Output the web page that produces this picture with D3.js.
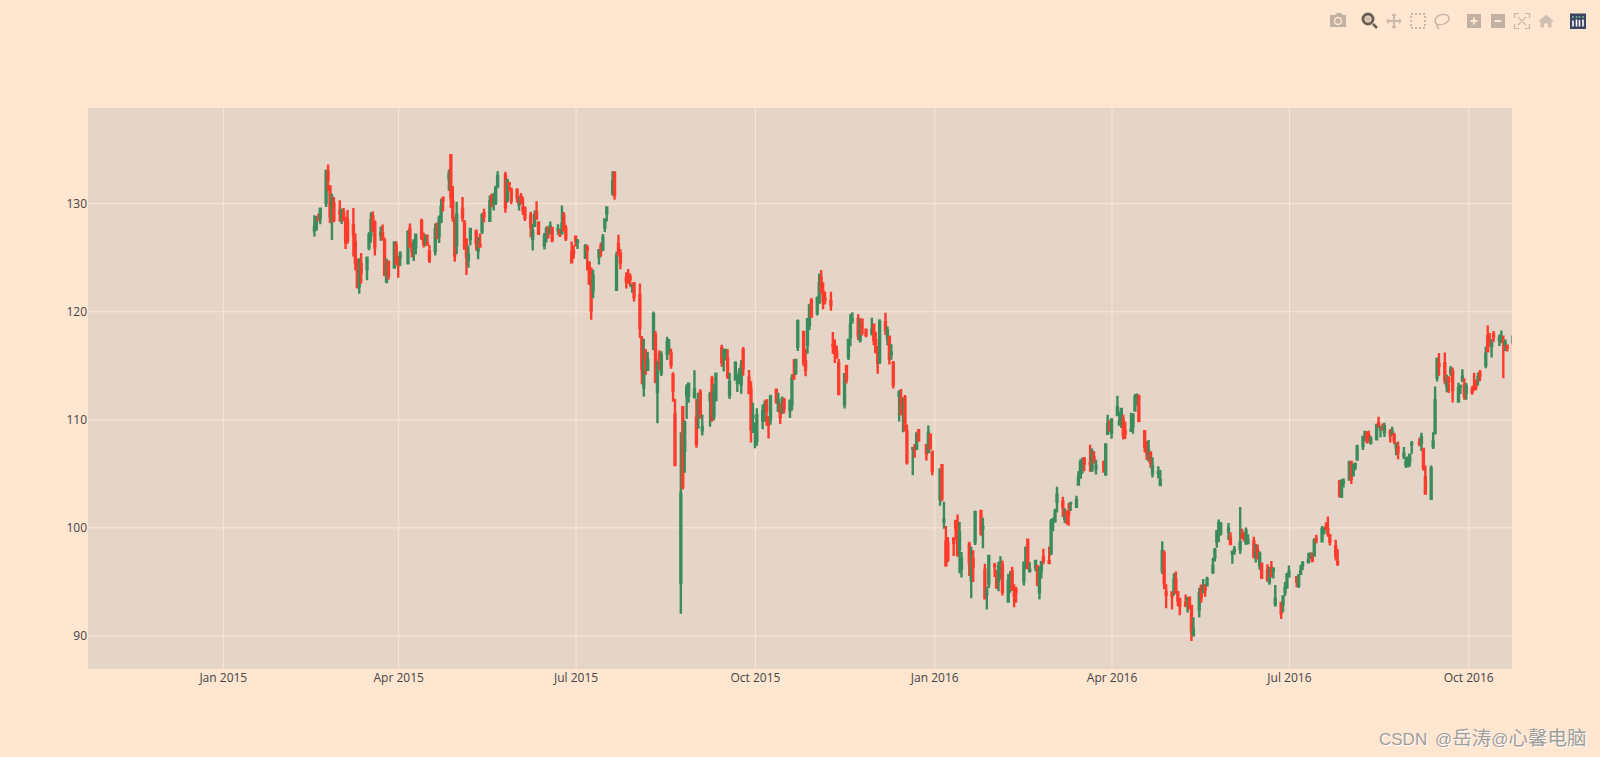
<!DOCTYPE html>
<html>
<head>
<meta charset="utf-8">
<script src="https://cdn.jsdelivr.net/npm/d3@7"></script>
<style>
html, body { margin: 0; padding: 0; background: #ffe6d1; overflow: hidden; }
#watermark { position: absolute; left: 1379px; top: 727px; line-height: 22px; font-family: "Liberation Sans", "Noto Sans CJK SC", sans-serif; font-size: 17px; word-spacing: 3px; color: #a09d9a; text-shadow: 1px 1px 1px #fff; white-space: nowrap; }
#watermark .cjk { font-size: 19.5px; }
</style>
</head>
<body>
<svg id="chart" width="1600" height="757" style="display:block"></svg>
<div id="watermark">CSDN @<span class="cjk">岳涛</span>@<span class="cjk">心馨电脑</span></div>
<script>
var dates = [
"2015-02-17","2015-02-18","2015-02-19","2015-02-20","2015-02-23","2015-02-24","2015-02-25","2015-02-26","2015-02-27",
"2015-03-02","2015-03-03","2015-03-04","2015-03-05","2015-03-06","2015-03-09","2015-03-10","2015-03-11","2015-03-12","2015-03-13","2015-03-16","2015-03-17","2015-03-18","2015-03-19","2015-03-20","2015-03-23","2015-03-24","2015-03-25","2015-03-26","2015-03-27","2015-03-30","2015-03-31",
"2015-04-01","2015-04-02","2015-04-06","2015-04-07","2015-04-08","2015-04-09","2015-04-10","2015-04-13","2015-04-14","2015-04-15","2015-04-16","2015-04-17","2015-04-20","2015-04-21","2015-04-22","2015-04-23","2015-04-24","2015-04-27","2015-04-28","2015-04-29","2015-04-30",
"2015-05-01","2015-05-04","2015-05-05","2015-05-06","2015-05-07","2015-05-08","2015-05-11","2015-05-12","2015-05-13","2015-05-14","2015-05-15","2015-05-18","2015-05-19","2015-05-20","2015-05-21","2015-05-22","2015-05-26","2015-05-27","2015-05-28","2015-05-29",
"2015-06-01","2015-06-02","2015-06-03","2015-06-04","2015-06-05","2015-06-08","2015-06-09","2015-06-10","2015-06-11","2015-06-12","2015-06-15","2015-06-16","2015-06-17","2015-06-18","2015-06-19","2015-06-22","2015-06-23","2015-06-24","2015-06-25","2015-06-26","2015-06-29","2015-06-30",
"2015-07-01","2015-07-02","2015-07-06","2015-07-07","2015-07-08","2015-07-09","2015-07-10","2015-07-13","2015-07-14","2015-07-15","2015-07-16","2015-07-17","2015-07-20","2015-07-21","2015-07-22","2015-07-23","2015-07-24","2015-07-27","2015-07-28","2015-07-29","2015-07-30","2015-07-31",
"2015-08-03","2015-08-04","2015-08-05","2015-08-06","2015-08-07","2015-08-10","2015-08-11","2015-08-12","2015-08-13","2015-08-14","2015-08-17","2015-08-18","2015-08-19","2015-08-20","2015-08-21","2015-08-24","2015-08-25","2015-08-26","2015-08-27","2015-08-28","2015-08-31",
"2015-09-01","2015-09-02","2015-09-03","2015-09-04","2015-09-08","2015-09-09","2015-09-10","2015-09-11","2015-09-14","2015-09-15","2015-09-16","2015-09-17","2015-09-18","2015-09-21","2015-09-22","2015-09-23","2015-09-24","2015-09-25","2015-09-28","2015-09-29","2015-09-30",
"2015-10-01","2015-10-02","2015-10-05","2015-10-06","2015-10-07","2015-10-08","2015-10-09","2015-10-12","2015-10-13","2015-10-14","2015-10-15","2015-10-16","2015-10-19","2015-10-20","2015-10-21","2015-10-22","2015-10-23","2015-10-26","2015-10-27","2015-10-28","2015-10-29","2015-10-30",
"2015-11-02","2015-11-03","2015-11-04","2015-11-05","2015-11-06","2015-11-09","2015-11-10","2015-11-11","2015-11-12","2015-11-13","2015-11-16","2015-11-17","2015-11-18","2015-11-19","2015-11-20","2015-11-23","2015-11-24","2015-11-25","2015-11-27","2015-11-30",
"2015-12-01","2015-12-02","2015-12-03","2015-12-04","2015-12-07","2015-12-08","2015-12-09","2015-12-10","2015-12-11","2015-12-14","2015-12-15","2015-12-16","2015-12-17","2015-12-18","2015-12-21","2015-12-22","2015-12-23","2015-12-24","2015-12-28","2015-12-29","2015-12-30","2015-12-31",
"2016-01-04","2016-01-05","2016-01-06","2016-01-07","2016-01-08","2016-01-11","2016-01-12","2016-01-13","2016-01-14","2016-01-15","2016-01-19","2016-01-20","2016-01-21","2016-01-22","2016-01-25","2016-01-26","2016-01-27","2016-01-28","2016-01-29",
"2016-02-01","2016-02-02","2016-02-03","2016-02-04","2016-02-05","2016-02-08","2016-02-09","2016-02-10","2016-02-11","2016-02-12","2016-02-16","2016-02-17","2016-02-18","2016-02-19","2016-02-22","2016-02-23","2016-02-24","2016-02-25","2016-02-26","2016-02-29",
"2016-03-01","2016-03-02","2016-03-03","2016-03-04","2016-03-07","2016-03-08","2016-03-09","2016-03-10","2016-03-11","2016-03-14","2016-03-15","2016-03-16","2016-03-17","2016-03-18","2016-03-21","2016-03-22","2016-03-23","2016-03-24","2016-03-28","2016-03-29","2016-03-30","2016-03-31",
"2016-04-01","2016-04-04","2016-04-05","2016-04-06","2016-04-07","2016-04-08","2016-04-11","2016-04-12","2016-04-13","2016-04-14","2016-04-15","2016-04-18","2016-04-19","2016-04-20","2016-04-21","2016-04-22","2016-04-25","2016-04-26","2016-04-27","2016-04-28","2016-04-29",
"2016-05-02","2016-05-03","2016-05-04","2016-05-05","2016-05-06","2016-05-09","2016-05-10","2016-05-11","2016-05-12","2016-05-13","2016-05-16","2016-05-17","2016-05-18","2016-05-19","2016-05-20","2016-05-23","2016-05-24","2016-05-25","2016-05-26","2016-05-27","2016-05-31",
"2016-06-01","2016-06-02","2016-06-03","2016-06-06","2016-06-07","2016-06-08","2016-06-09","2016-06-10","2016-06-13","2016-06-14","2016-06-15","2016-06-16","2016-06-17","2016-06-20","2016-06-21","2016-06-22","2016-06-23","2016-06-24","2016-06-27","2016-06-28","2016-06-29","2016-06-30",
"2016-07-01","2016-07-05","2016-07-06","2016-07-07","2016-07-08","2016-07-11","2016-07-12","2016-07-13","2016-07-14","2016-07-15","2016-07-18","2016-07-19","2016-07-20","2016-07-21","2016-07-22","2016-07-25","2016-07-26","2016-07-27","2016-07-28","2016-07-29",
"2016-08-01","2016-08-02","2016-08-03","2016-08-04","2016-08-05","2016-08-08","2016-08-09","2016-08-10","2016-08-11","2016-08-12","2016-08-15","2016-08-16","2016-08-17","2016-08-18","2016-08-19","2016-08-22","2016-08-23","2016-08-24","2016-08-25","2016-08-26","2016-08-29","2016-08-30","2016-08-31",
"2016-09-01","2016-09-02","2016-09-06","2016-09-07","2016-09-08","2016-09-09","2016-09-12","2016-09-13","2016-09-14","2016-09-15","2016-09-16","2016-09-19","2016-09-20","2016-09-21","2016-09-22","2016-09-23","2016-09-26","2016-09-27","2016-09-28","2016-09-29","2016-09-30",
"2016-10-03","2016-10-04","2016-10-05","2016-10-06","2016-10-07","2016-10-10","2016-10-11","2016-10-12","2016-10-13","2016-10-14","2016-10-17","2016-10-18","2016-10-19","2016-10-20","2016-10-21","2016-10-24"
];
var opens = [
127.49,127.63,128.48,128.62,130.02,132.94,131.56,128.79,130.00,
129.25,128.96,129.10,128.58,128.40,127.96,126.41,124.75,122.31,124.40,123.88,125.90,127.00,128.75,128.25,127.12,127.23,126.54,122.76,124.57,124.05,126.09,
124.82,125.03,124.47,127.64,125.85,125.85,125.95,128.37,127.00,126.41,126.28,125.55,125.57,128.10,126.99,128.30,130.49,132.31,134.46,130.16,128.64,
126.10,129.50,128.15,126.56,124.77,126.68,127.39,125.60,126.15,127.41,129.07,128.38,130.69,130.00,130.07,131.60,132.60,130.34,131.86,131.23,
131.20,129.86,130.66,129.58,129.50,128.90,126.70,127.92,129.18,128.19,126.10,127.03,127.72,127.23,127.71,127.49,127.48,127.21,128.86,127.67,125.46,125.57,
126.90,126.43,124.94,125.89,124.48,123.85,121.94,125.03,126.04,125.72,127.74,129.08,130.97,132.85,121.99,126.20,125.32,123.09,123.38,123.15,122.32,122.60,
121.50,117.42,112.95,115.97,114.58,116.53,117.81,112.53,116.04,114.32,116.04,116.43,116.10,114.08,110.43,94.87,111.11,107.09,112.23,112.17,112.03,
110.15,110.23,112.49,108.97,111.75,113.76,110.27,111.79,116.58,115.93,116.25,115.66,112.21,113.67,113.38,113.63,113.25,116.44,113.85,112.83,110.17,
109.07,108.01,109.88,110.63,111.74,110.19,110.00,112.73,110.82,111.29,110.93,111.78,110.80,111.34,114.00,114.33,116.70,118.08,115.40,116.93,118.70,120.99,
119.87,120.79,123.13,121.85,121.11,120.96,116.90,116.37,116.26,115.20,111.38,114.92,115.76,117.64,119.20,119.27,117.33,119.21,118.29,117.99,
118.75,117.34,116.55,115.29,118.98,117.52,117.64,116.04,115.19,112.18,111.94,111.07,112.02,108.91,107.28,107.40,107.27,109.00,107.59,106.96,108.58,107.01,
102.61,105.75,100.56,98.68,98.55,98.97,100.55,100.32,97.96,96.20,98.41,95.10,97.06,98.63,101.52,99.93,96.04,93.79,94.79,
96.47,95.42,95.00,95.86,96.52,93.13,94.29,95.92,93.79,94.19,95.02,96.67,98.84,96.00,96.31,96.40,93.98,96.05,97.20,96.86,
97.65,100.51,100.58,102.37,102.39,100.78,101.31,101.41,102.24,101.91,103.96,104.61,105.52,106.34,105.93,105.25,106.48,105.47,106.00,104.89,108.65,109.72,
108.78,110.42,109.51,110.23,109.95,108.91,108.97,109.34,110.80,111.62,112.11,108.89,107.88,106.64,106.93,105.01,105.00,103.91,96.00,97.61,93.99,
93.97,94.20,95.20,94.00,93.37,93.00,93.33,93.48,92.72,90.00,92.39,94.55,94.16,94.64,94.64,95.87,97.22,98.67,99.68,99.44,99.60,
99.02,97.60,97.79,97.99,99.25,99.02,98.50,98.53,98.69,97.32,97.82,96.45,96.62,96.00,94.94,96.25,95.94,92.91,93.00,92.90,93.97,94.44,
95.49,95.39,94.60,95.70,96.49,96.75,97.17,97.41,97.39,98.92,98.70,99.56,100.00,99.83,99.26,98.25,96.82,104.26,102.83,104.19,
104.41,106.05,104.81,105.58,106.27,107.52,108.23,108.71,108.52,107.78,108.14,109.63,109.10,109.23,108.77,108.86,108.59,108.57,107.39,107.41,106.62,105.80,105.66,
106.14,107.70,107.90,107.83,107.25,104.64,102.65,107.51,108.73,113.86,115.12,115.19,113.05,113.85,114.35,114.42,111.64,113.00,113.69,113.16,112.46,
112.71,113.06,113.40,113.70,114.31,115.02,117.70,117.35,116.79,117.88,117.33,117.18,117.25,116.86,116.81,117.10
];
var highs = [
128.88,128.78,129.03,129.50,133.00,133.60,131.60,130.87,130.57,
130.28,129.52,129.56,128.75,129.37,129.57,127.22,124.77,124.90,125.40,124.95,127.32,129.16,129.25,128.40,127.85,128.04,126.82,124.88,124.70,126.40,126.49,
125.12,125.56,127.51,128.12,126.40,126.58,127.21,128.57,127.29,127.13,127.10,126.14,128.12,128.20,128.87,130.42,130.63,133.13,134.54,131.59,128.64,
130.13,130.57,128.45,126.75,126.08,127.62,127.56,126.88,127.19,128.95,129.49,130.72,130.88,130.98,131.63,132.97,132.91,132.26,131.95,131.45,
131.39,130.66,130.94,130.58,129.69,129.21,128.08,129.34,130.18,128.33,127.24,127.85,127.88,128.31,127.82,128.06,127.61,129.80,129.20,127.99,126.47,126.12,
126.94,126.69,126.23,126.15,124.64,124.06,123.85,125.76,126.37,127.15,128.57,129.62,132.97,132.92,125.50,127.09,125.74,123.61,123.91,123.50,122.57,122.64,
122.57,117.70,117.44,116.50,116.25,119.99,118.18,115.42,116.40,116.31,117.65,117.44,116.52,114.35,111.90,108.80,111.11,109.89,113.24,113.31,114.53,
111.88,112.34,112.78,110.45,112.56,114.02,113.28,114.21,116.89,116.53,116.54,116.49,114.30,115.37,114.18,114.72,115.50,116.69,114.57,113.51,111.54,
109.62,111.01,111.37,111.74,111.77,110.19,112.28,112.75,112.45,111.52,112.10,112.00,111.75,114.17,115.58,115.50,119.23,118.13,116.54,119.30,120.69,121.22,
121.36,123.49,123.82,122.69,121.81,121.81,118.07,117.42,116.82,115.57,114.24,115.05,117.49,119.75,119.92,119.73,119.35,119.23,118.41,119.41,
118.81,118.11,116.79,119.25,119.86,118.60,117.69,116.94,115.39,112.68,112.80,111.99,112.25,109.52,107.37,107.72,108.85,109.00,107.69,109.43,108.70,107.03,
105.37,105.85,102.37,100.13,99.11,99.06,100.69,101.19,100.48,97.71,98.65,98.19,97.88,101.46,101.53,100.88,96.63,94.52,97.34,
96.71,96.04,96.84,97.33,96.92,95.70,95.94,96.35,94.72,94.50,96.85,98.21,98.89,96.76,96.90,96.50,96.38,96.76,98.02,98.23,
100.77,100.89,101.71,103.75,102.83,101.76,101.58,102.24,102.28,102.91,105.18,106.31,106.47,106.50,107.65,107.29,107.07,106.25,106.19,107.79,110.42,109.90,
110.00,112.19,110.73,110.98,110.42,109.77,110.61,110.50,112.34,112.39,112.30,108.95,108.00,108.09,106.93,106.48,105.65,105.30,98.71,97.88,94.72,
94.08,95.74,95.90,94.07,93.45,93.77,93.57,93.57,92.78,91.67,94.39,94.70,95.21,94.64,95.43,97.19,98.09,99.74,100.73,100.47,100.40,
99.54,97.84,98.27,101.89,99.87,99.56,99.99,99.35,99.12,98.48,98.41,97.75,96.65,96.57,96.35,96.89,96.29,94.66,93.05,93.66,94.94,95.77,
96.47,95.40,95.66,96.50,96.89,97.65,97.70,97.67,98.99,99.30,100.13,100.00,100.46,101.00,99.30,98.84,97.97,104.35,104.45,104.55,
106.15,106.07,105.84,106.00,107.65,108.37,108.94,108.90,108.93,108.44,109.54,110.23,109.37,109.60,109.69,109.10,109.32,108.75,107.88,107.95,107.44,106.50,106.57,
106.80,108.00,108.30,108.76,107.27,105.72,105.72,108.79,113.03,115.73,116.13,116.18,114.12,113.99,114.94,114.79,113.39,113.18,114.64,113.80,113.37,
113.05,114.31,113.66,114.34,114.56,116.75,118.69,117.98,117.44,118.17,117.84,118.21,117.76,117.38,116.91,117.74
];
var lows = [
126.92,127.45,128.33,128.05,129.66,131.17,128.15,126.61,128.24,
128.30,128.09,128.32,125.76,126.26,125.06,123.80,122.11,121.63,122.58,122.87,125.65,126.37,127.40,125.16,126.52,126.56,123.38,122.60,122.91,124.00,124.36,
123.10,124.19,124.33,125.98,124.97,124.66,125.26,126.61,125.91,126.01,126.11,124.46,125.17,126.67,126.32,128.14,129.23,131.15,129.57,128.30,124.58,
125.30,128.30,125.78,123.36,124.02,126.11,125.63,124.82,125.87,127.16,128.21,128.36,129.64,129.34,129.83,131.40,129.12,130.05,131.10,129.90,
130.05,129.32,129.90,128.91,128.36,126.83,125.62,127.85,128.48,127.11,125.71,126.37,126.74,127.22,126.40,127.08,126.88,127.12,127.50,126.51,124.48,124.86,
125.99,125.77,124.85,123.77,122.54,119.22,121.21,124.32,125.04,125.58,127.35,128.31,130.70,130.32,121.99,125.06,123.90,122.12,122.55,122.27,121.71,120.91,
117.52,113.25,112.10,114.12,114.50,116.53,113.33,109.63,114.54,114.01,115.50,116.01,114.68,111.63,105.65,92.00,103.50,105.05,110.02,111.54,112.00,
107.36,109.13,110.04,108.51,109.32,109.77,109.90,111.76,114.86,114.42,115.44,113.72,111.87,113.66,112.52,113.30,112.37,114.02,112.44,107.86,108.73,
107.31,107.55,109.07,109.77,109.41,108.21,109.49,111.44,110.68,109.56,110.49,110.53,110.11,110.82,113.70,114.10,116.33,114.92,113.99,116.06,118.27,119.45,
119.61,120.70,121.62,120.18,120.62,120.05,116.06,115.21,115.65,112.27,111.00,113.32,115.50,116.76,118.85,117.34,117.12,117.75,117.60,117.75,
116.86,116.08,114.22,115.11,117.81,116.86,115.08,115.51,112.85,109.79,110.35,108.80,108.98,105.81,104.82,106.45,107.20,107.95,106.18,106.86,107.18,104.82,
102.00,102.41,99.87,96.43,96.76,97.34,98.84,97.30,95.74,95.36,95.50,93.42,94.94,98.37,99.21,98.07,93.34,92.39,94.35,
95.40,94.28,94.08,95.19,93.69,93.04,93.93,94.10,92.59,93.01,94.61,96.15,96.09,95.80,95.92,94.55,93.32,95.25,96.58,96.65,
97.42,99.64,100.45,101.37,100.96,100.40,100.27,100.15,101.50,101.78,103.85,104.59,104.96,105.19,105.14,105.21,105.90,104.89,105.06,104.88,108.60,108.88,
108.20,110.27,109.42,109.20,108.12,108.17,108.83,108.66,110.80,111.33,109.73,106.94,106.23,106.06,105.52,104.62,104.51,103.91,95.68,94.25,92.51,
92.40,93.68,93.82,92.68,91.85,92.59,92.11,92.46,89.47,90.00,91.65,93.01,93.89,93.57,94.52,95.67,96.84,98.11,98.64,99.25,98.82,
98.33,96.63,97.45,97.55,98.96,98.68,98.46,98.48,97.10,96.75,97.03,96.07,95.30,95.03,94.68,95.35,95.25,92.65,91.50,92.14,93.63,94.30,
95.33,94.46,94.37,95.62,96.05,96.73,97.12,96.84,97.32,98.50,98.60,99.34,99.74,99.13,98.31,96.92,96.42,102.75,102.82,103.68,
104.41,104.00,104.77,105.28,106.18,107.16,108.01,107.76,107.85,107.78,108.08,109.21,108.34,109.02,108.36,107.85,108.53,107.68,106.68,106.31,106.29,105.50,105.64,
105.62,106.82,107.51,107.07,105.24,103.13,102.53,107.24,108.60,113.49,114.04,113.25,112.51,112.44,114.00,111.55,111.55,112.34,113.43,111.80,111.80,
112.28,112.63,112.69,113.13,113.51,114.72,116.20,116.75,115.72,117.13,116.78,117.13,113.80,116.33,116.28,117.00
];
var closes = [
127.83,128.72,128.45,129.50,133.00,132.17,128.79,130.42,128.46,
129.09,129.36,128.54,126.41,126.60,127.14,124.51,122.24,124.45,123.59,124.95,127.04,128.47,127.50,125.90,127.21,126.69,123.38,124.24,123.25,126.37,124.43,
124.25,125.32,127.35,126.01,125.60,126.56,127.10,126.85,126.30,126.78,126.17,124.75,127.60,126.91,128.62,129.67,130.28,132.65,130.56,128.64,125.15,
128.95,128.70,125.80,125.01,125.26,127.62,126.32,125.87,126.01,128.95,128.77,130.19,130.07,130.06,131.39,132.54,129.62,132.04,131.78,130.28,
130.54,129.96,130.12,129.36,128.65,127.80,127.42,128.88,128.59,127.17,126.92,127.60,127.30,127.88,126.60,127.61,127.03,128.11,127.50,126.75,124.53,125.43,
126.60,126.44,126.00,125.69,122.57,120.07,123.28,125.66,125.61,126.82,128.51,129.62,132.07,130.75,125.16,125.22,124.50,122.77,123.38,122.99,122.37,121.30,
118.44,114.64,115.40,115.13,115.52,119.72,113.49,115.24,115.15,115.96,117.16,116.50,115.01,112.65,105.76,103.12,103.74,109.69,112.92,113.29,112.76,
107.72,112.34,110.37,109.27,112.31,110.15,112.57,114.21,115.31,116.28,116.41,113.92,113.45,115.21,113.40,114.32,115.00,114.71,112.44,109.06,110.30,
109.58,110.38,110.78,111.31,110.78,109.50,112.12,111.60,111.79,110.21,111.86,111.04,111.73,113.77,113.76,115.50,119.08,115.28,114.55,119.27,120.53,119.50,
121.18,122.57,122.00,120.92,121.06,120.57,116.77,116.11,115.72,112.34,114.18,113.69,117.29,118.78,119.30,117.75,118.88,118.03,117.81,118.30,
117.34,116.28,115.20,119.03,118.28,118.23,115.62,116.17,113.18,112.48,110.49,111.34,108.98,106.03,107.33,107.23,108.61,108.03,106.82,108.74,107.32,105.26,
105.35,102.71,100.70,96.45,96.96,98.53,99.96,97.39,99.52,97.13,96.66,96.79,96.30,101.42,99.44,99.99,93.42,94.09,97.34,
96.43,94.48,96.35,96.60,94.02,95.01,94.99,94.27,93.70,93.99,96.64,98.12,96.26,96.04,96.88,94.69,96.10,96.76,96.91,96.69,
100.53,100.75,101.50,103.01,101.87,101.03,101.12,101.17,102.26,102.52,104.58,105.97,105.80,105.92,105.91,106.72,106.13,105.67,105.19,107.68,109.56,108.99,
109.99,111.12,109.81,110.96,108.54,108.66,109.02,110.44,112.04,112.10,109.85,107.48,106.91,107.13,105.97,105.68,105.08,104.35,97.82,94.83,93.74,
93.64,95.18,94.19,93.24,92.72,92.79,93.42,92.51,90.34,90.52,93.88,93.49,94.56,94.20,95.22,96.43,97.90,99.62,100.41,100.35,99.86,
98.46,97.72,97.92,98.63,99.03,98.94,99.65,98.83,97.34,97.46,97.14,97.55,95.33,95.10,95.91,95.55,96.10,93.40,92.04,93.59,94.40,95.60,
95.89,94.99,95.53,95.94,96.68,96.98,97.42,96.87,98.79,98.78,99.83,99.87,99.96,99.43,98.66,97.34,96.67,102.95,104.34,104.21,
106.05,104.48,105.79,105.87,107.48,108.37,108.81,108.00,107.93,108.18,109.48,109.38,109.22,109.08,109.36,108.51,108.85,108.03,107.57,106.94,106.82,106.00,106.10,
106.73,107.73,107.70,108.36,105.52,103.13,105.44,107.95,111.77,115.57,114.92,113.58,113.57,113.55,114.62,112.71,112.88,113.09,113.95,112.18,113.05,
112.52,113.00,113.05,113.89,114.06,116.05,116.30,117.34,116.98,117.63,117.55,117.47,117.12,117.06,116.60,117.65
];
var xTickDates = ["2015-01-01","2015-04-01","2015-07-01","2015-10-01","2016-01-01","2016-04-01","2016-07-01","2016-10-01"];
var yTicks = [90, 100, 110, 120, 130];

var plot = { left: 88, right: 1512, top: 108, bottom: 669 };
var upColor = "#3a8c5c", downColor = "#ff3b2b";
var parse = d3.utcParse("%Y-%m-%d");

var svg = d3.select("#chart");

// domain ends: Jan 2015 sits at 223.3, Oct 2016 at 1468.7
var x = d3.scaleUtc()
    .domain([new Date(Date.UTC(2014, 9, 23, 20)), new Date(Date.UTC(2016, 9, 23, 11))])
    .range([plot.left, plot.right]);
var y = d3.scaleLinear().domain([86.88, 138.82]).range([plot.bottom, plot.top]);

svg.append("rect")
    .attr("x", plot.left).attr("y", plot.top)
    .attr("width", plot.right - plot.left).attr("height", plot.bottom - plot.top)
    .attr("fill", "#e5d5c8");

svg.append("clipPath").attr("id", "plot-clip").append("rect")
    .attr("x", plot.left).attr("y", plot.top)
    .attr("width", plot.right - plot.left).attr("height", plot.bottom - plot.top);

// axes double as the grid, the long ticks are the grid lines
var xAxis = d3.axisBottom(x)
    .tickValues(xTickDates.map(parse))
    .tickFormat(d3.utcFormat("%b %Y"))
    .tickSize(-(plot.bottom - plot.top))
    .tickPadding(4.5);
var yAxis = d3.axisLeft(y)
    .tickValues(yTicks)
    .tickSize(-(plot.right - plot.left))
    .tickPadding(1);

svg.append("g").attr("transform", "translate(0," + plot.bottom + ")").call(xAxis);
svg.append("g").attr("class", "y-axis").attr("transform", "translate(" + plot.left + ",0)").call(yAxis);
svg.selectAll(".domain").remove();
svg.selectAll(".tick line").attr("stroke", "#ffe6d1").attr("stroke-width", 1);
svg.selectAll(".tick text").attr("fill", "#444").style("font-family", "'Open Sans', sans-serif").style("font-size", "12px");
svg.selectAll(".y-axis .tick text").attr("dy", "0.38em");

// candles: small box plus whiskers, one path per day
var candles = svg.append("g").attr("clip-path", "url(#plot-clip)");
candles.selectAll("path")
    .data(d3.range(dates.length))
    .enter().append("path")
    .attr("fill", function(i) { return closes[i] > opens[i] ? upColor : downColor; })
    .attr("stroke", function(i) { return closes[i] > opens[i] ? upColor : downColor; })
    .attr("stroke-width", 2.4)
    .attr("d", function(i) {
        var cx = x(parse(dates[i])), half = 0.48;
        var boxTop = y(Math.max(opens[i], closes[i])), boxBottom = y(Math.min(opens[i], closes[i]));
        return "M" + (cx - half) + "," + boxTop + "H" + (cx + half) + "V" + boxBottom + "H" + (cx - half) + "Z" +
            "M" + cx + "," + boxTop + "V" + y(highs[i]) +
            "M" + cx + "," + boxBottom + "V" + y(lows[i]);
    });

// modebar
var bar = svg.append("g").attr("fill", "#c2b1a3").attr("stroke", "none");
var cam = bar.append("g").attr("transform", "translate(1338,21)");
cam.append("path").attr("d", "M-8,-6H-3L-1,-8H3L5,-6H8V6H-8Z");
cam.append("circle").attr("r", 3.5).attr("fill", "none").attr("stroke", "#ffe6d1").attr("stroke-width", 1.5);

var zoomIcon = bar.append("g").attr("transform", "translate(1368,19)");
zoomIcon.append("circle").attr("r", 5).attr("fill", "none").attr("stroke", "#6b5f55").attr("stroke-width", 3);
zoomIcon.append("rect").attr("x", -2.5).attr("y", -2.5).attr("width", 5).attr("height", 5).attr("fill", "#6b5f55").attr("opacity", 0.3);
zoomIcon.append("line").attr("x1", 5).attr("y1", 5).attr("x2", 9).attr("y2", 9).attr("stroke", "#6b5f55").attr("stroke-width", 2.5);

var pan = bar.append("g").attr("transform", "translate(1394,21)").attr("stroke", "#cbbaac").attr("stroke-width", 2);
pan.append("line").attr("x1", -7).attr("x2", 7);
pan.append("line").attr("y1", -7).attr("y2", 7);
pan.append("path").attr("fill", "#cbbaac").attr("stroke", "none").attr("d", "M-8,0L-5,-3V3ZM8,0L5,-3V3ZM0,-8L-3,-5H3ZM0,8L-3,5H3Z");

bar.append("rect").attr("x", 1411).attr("y", 14).attr("width", 14).attr("height", 14)
    .attr("fill", "none").attr("stroke", "#c9b8aa").attr("stroke-width", 2).attr("stroke-dasharray", "2,2");

bar.append("path").attr("transform", "translate(1442,21)")
    .attr("fill", "none").attr("stroke", "#c9b8aa").attr("stroke-width", 1.5)
    .attr("d", "M-4,4C-9,1 -7,-6 1,-6.5C8,-7 9,-1 4,2C1,4 -2,4 -4,4C-6,5 -4,7 -3,8");

bar.append("rect").attr("x", 1467).attr("y", 14).attr("width", 14).attr("height", 14);
bar.append("path").attr("d", "M1474,17.5V24.5M1470.5,21H1477.5").attr("stroke", "#ffe6d1").attr("stroke-width", 2);
bar.append("rect").attr("x", 1491).attr("y", 14).attr("width", 14).attr("height", 14);
bar.append("path").attr("d", "M1494.5,21H1501.5").attr("stroke", "#ffe6d1").attr("stroke-width", 2);

bar.append("path").attr("fill", "none").attr("stroke", "#c9b8aa").attr("stroke-width", 1.2)
    .attr("d", "M1514.5,18V13.5H1519M1525,13.5H1529.5V18M1529.5,24V28.5H1525M1519,28.5H1514.5V24M1518,17L1526,25M1526,17L1518,25");

bar.append("path").attr("fill", "#cfbfb1").attr("d", "M1546,14.5L1554,21.5H1551.5V27.5H1548V23.5H1544V27.5H1540.5V21.5H1538Z");

var logo = svg.append("g").attr("transform", "translate(1570,13.5)");
logo.append("rect").attr("width", 16).attr("height", 15.5).attr("fill", "#3b4563");
logo.selectAll("line").data([3, 6.5, 9.5, 13]).enter().append("line")
    .attr("x1", function(d) { return d; }).attr("x2", function(d) { return d; })
    .attr("y1", function(d, i) { return [7, 6, 6.5, 6][i]; }).attr("y2", 13)
    .attr("stroke", "#fff").attr("stroke-width", 1.6);
logo.selectAll("circle").data([3, 6.5, 9.5, 13]).enter().append("circle")
    .attr("cx", function(d) { return d; }).attr("cy", 3.5).attr("r", 0.9).attr("fill", "#76c79a");
</script>
</body>
</html>
